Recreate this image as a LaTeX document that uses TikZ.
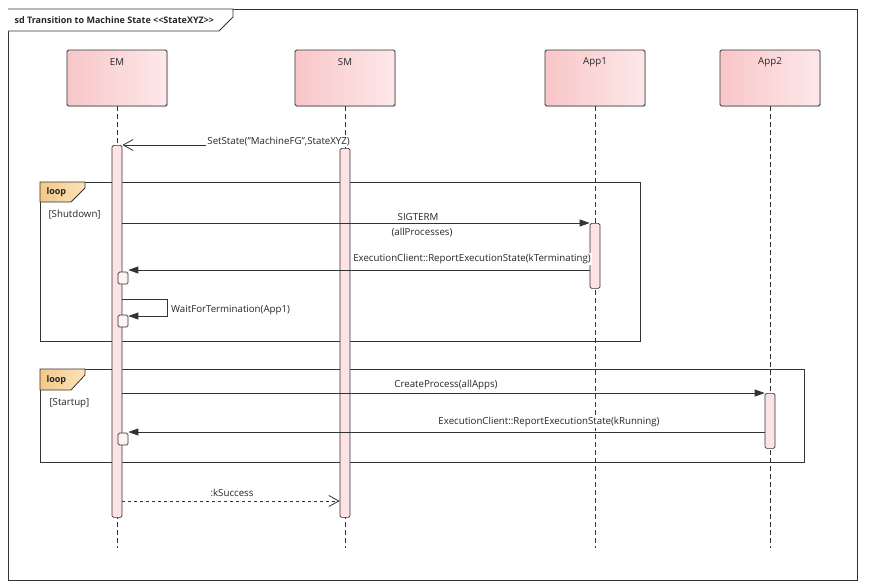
\documentclass[tikz,border=0pt]{standalone}
\usepackage{fontspec}
\setmainfont{Open Sans}
\usetikzlibrary{arrows.meta,shadows}
\definecolor{ln}{HTML}{333333}
\definecolor{headL}{HTML}{F8C6C8}
\definecolor{headR}{HTML}{FDE8E9}
\definecolor{actC}{HTML}{FDE3E3}
\definecolor{tabL}{HTML}{F3C98A}
\definecolor{tabR}{HTML}{FBE3B8}
\begin{document}
\begin{tikzpicture}[x=1pt,y=-1pt,
  every node/.style={font=\fontsize{9.7}{11}\selectfont, text=black!85},
  bf/.style={font=\fontsize{9}{11}\selectfont\bfseries},
  head/.style={draw=ln, line width=0.8pt, rounded corners=1.5pt, left color=headL, right color=headR,
     minimum width=100pt, minimum height=56pt, inner sep=0pt, drop shadow={opacity=0.25, shadow xshift=1pt, shadow yshift=-1pt}},
  act/.style={draw=ln, line width=0.7pt, fill=actC, rounded corners=1.5pt, minimum width=10pt, inner sep=0pt, anchor=north},
  ex/.style={draw=ln, line width=0.7pt, fill=actC!40, rounded corners=1.5pt, minimum width=10pt, minimum height=12pt, inner sep=0pt},
  life/.style={draw=ln, line width=0.7pt, dash pattern=on 5pt off 3pt},
  msg/.style={draw=ln, line width=0.8pt, -{Triangle[length=10pt,width=7pt]}},
  open/.style={draw=ln, line width=0.8pt, -{Straight Barb[length=10pt,width=11pt,line width=0.8pt]}},
  frm/.style={draw=ln, line width=0.8pt},
  lbl/.style={inner sep=1pt},
]
\useasboundingbox (0,0) rectangle (869,587);
% outer frame
\draw[frm] (8,9) rectangle (857,580);
\draw[frm, fill=white] (8,9) -- (233,9) -- (233,17) -- (219,31) -- (8,31);
\node[anchor=west, bf] (title) at (11,20) {sd Transition to Machine State <{}<StateXYZ>{}>};

% heads
\node[head] (em) at (117,78) {};
\node[head] (sm) at (345,78) {};
\node[head] (a1) at (595,78) {};
\node[head] (a2) at (770,78) {};
\node (emt) at (117,62) {EM};
\node (smt) at (345,62) {SM};
\node (a1t) at (595,62) {App1};
\node (a2t) at (770,62) {App2};

% lifelines
\coordinate (emE) at (117,548);
\coordinate (smE) at (345,548);
\coordinate (a1E) at (595,548);
\coordinate (a2E) at (770,548);
\draw[life] (em.south) -- (emE);
\draw[life] (sm.south) -- (smE);
\draw[life] (a1.south) -- (a1E);
\draw[life] (a2.south) -- (a2E);

% loop frames
\node[frm, anchor=north west, minimum width=600pt, minimum height=159pt, inner sep=0pt] (loop1) at (40,182) {};
\node[frm, anchor=north west, minimum width=764pt, minimum height=93pt, inner sep=0pt] (loop2) at (40,369) {};
\draw[frm, left color=tabL, right color=tabR] (40,182) -- (85,182) -- (85,188) -- (71,202) -- (40,202) -- cycle;
\draw[frm, left color=tabL, right color=tabR] (40,369) -- (85,369) -- (85,375) -- (71,390) -- (40,390) -- cycle;
\node[anchor=west, bf] (l1) at (43,192) {loop};
\node[anchor=west, bf] (l2) at (43,380) {loop};
\node[anchor=west] (g1) at (45,215) {[Shutdown]};
\node[anchor=west] (g2) at (46,403) {[Startup]};

% activations
\node[act, minimum height=372pt] (emA) at (117,145) {};
\node[act, minimum height=369pt] (smA) at (345,148) {};
\node[act, minimum height=65pt] (a1A) at (595,223) {};
\node[act, minimum height=55pt] (a2A) at (770,393) {};

% execution occurrences on EM
\node[ex] (x1) at (123,278) {};
\node[ex] (x2) at (123,321) {};
\node[ex] (x3) at (123,439) {};

% messages
\draw[open] (smA.west |- 0,145) -- (emA.east |- 0,145);
\node[lbl, anchor=south east, fill=white] (m1) at (351,147.5) {SetState("MachineFG",StateXYZ)};

\draw[msg] (emA.east |- 0,223) -- (a1A.west |- 0,223);
\node[lbl, fill=white] (m2) at (418,217) {SIGTERM};
\node[lbl] (m2b) at (422,233) {(allProcesses)};

\draw[msg] (a1A.west |- 0,270) -- (x1.east |- 0,270);
\node[lbl, fill=white] (m3) at (472,259) {ExecutionClient::ReportExecutionState(kTerminating)};

\coordinate (s1) at (167,299);
\coordinate (s2) at (167,316);
\draw[msg] (emA.east |- 0,299) -- (s1) -- (s2) -- (x2.east |- 0,316);
\node[lbl, anchor=west] (m4) at (170,310) {WaitForTermination(App1)};

\draw[msg] (emA.east |- 0,393) -- (a2A.west |- 0,393);
\node[lbl] (m5) at (446,385) {CreateProcess(allApps)};

\draw[msg] (a2A.west |- 0,432) -- (x3.east |- 0,432);
\node[lbl, fill=white] (m6) at (549,422) {ExecutionClient::ReportExecutionState(kRunning)};

\draw[open, dashed] (emA.east |- 0,501) -- (smA.west |- 0,501);
\node[lbl] (m7) at (232,493) {:kSuccess};
\end{tikzpicture}
\end{document}
